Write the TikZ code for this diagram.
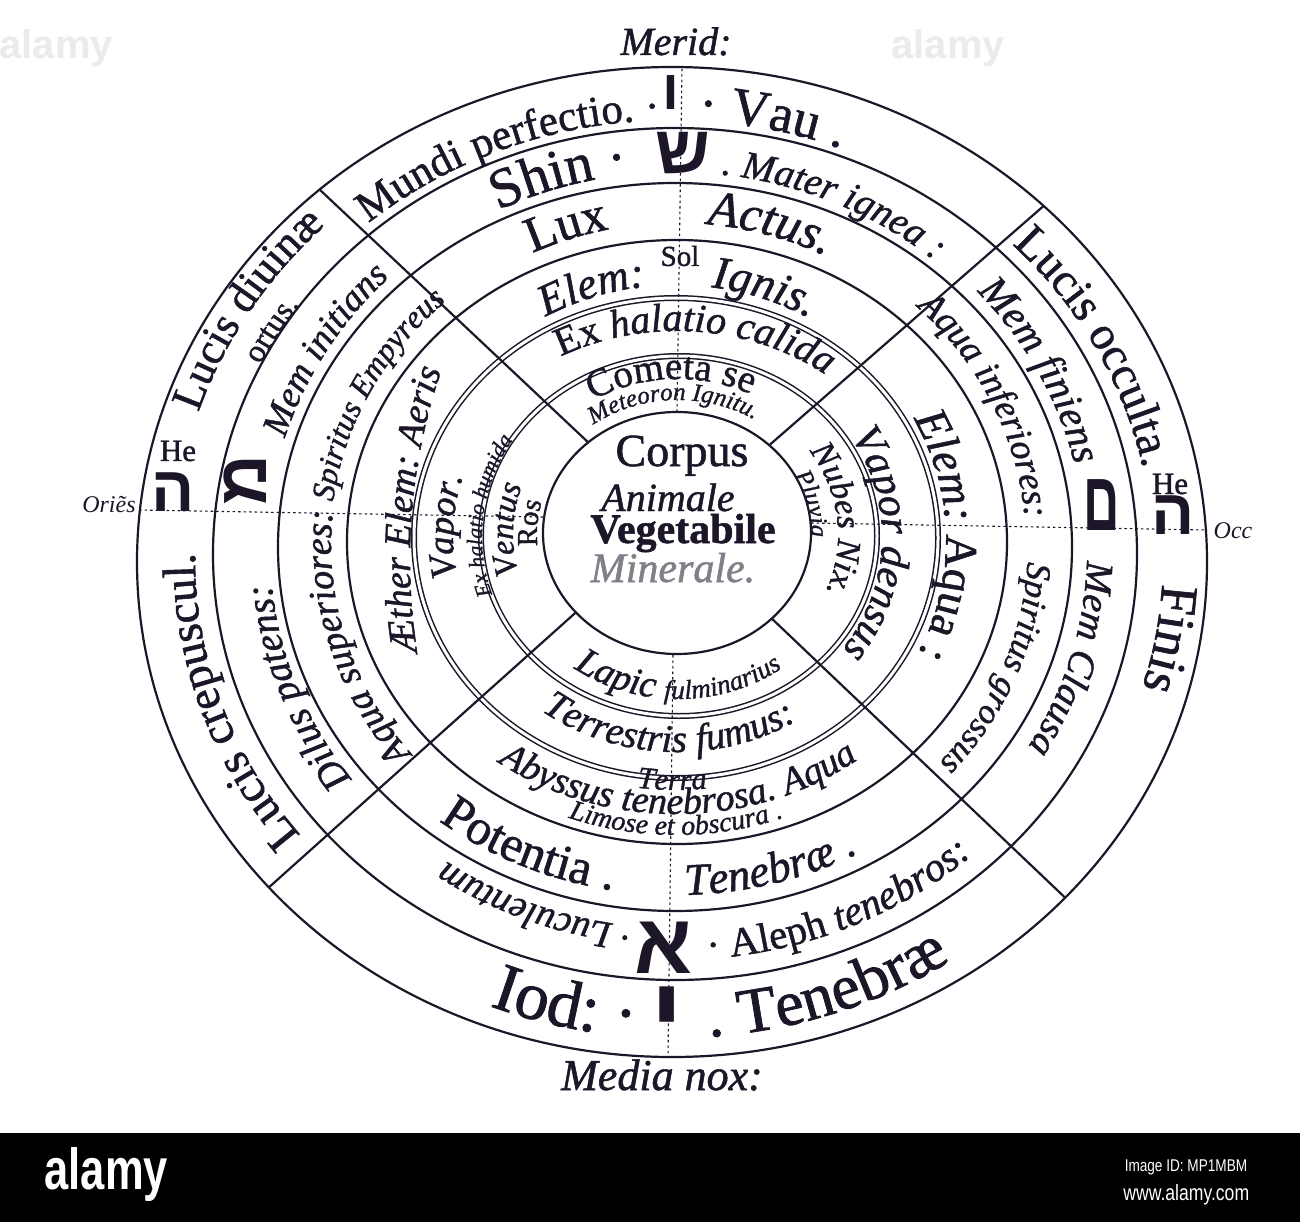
\documentclass[tikz,border=0pt]{standalone}
\usepackage{fontspec}
\usetikzlibrary{decorations.text}
\setmainfont{Liberation Serif}[FakeBold=1.2]
\newfontfamily\hebfont{Liberation Sans}
\newfontfamily\oldserif{Liberation Serif}
\newfontfamily\logofont{Liberation Sans}
\definecolor{ink}{RGB}{28,22,40}
\newcommand{\romanat}[1]{\fontsize{#1}{#1}\selectfont\upshape}
\newcommand{\italat}[1]{\fontsize{#1}{#1}\selectfont\itshape}
\tikzset{
  ringline/.style={draw=ink, line width=2.2pt},
  dblline/.style={draw=ink, line width=1.5pt, double=white, double distance=3pt},
  axis/.style={draw=ink, line width=1.1pt, dash pattern=on 2.5pt off 3pt},
  curved/.style={decorate, decoration={text along path, text align=center, text color=ink, text={#1}}},
  heb/.style={font=\hebfont\bfseries\fontsize{#1}{#1}\selectfont, text=ink, inner sep=0pt},
  word/.style={text=ink, inner sep=0pt},
}
% centre, x radius, y radius, middle angle, half span (negative: inner side up), text
\newcommand{\ringtext}[6]{%
  \path[curved={#6}] (#1) ++({#4-(#5)}:#2 and #3)
    arc[start angle={#4-(#5)}, end angle={#4+(#5)}, x radius=#2, y radius=#3];}
\begin{document}
\begin{tikzpicture}[x=1pt, y=-1pt]
 \useasboundingbox (0,0) rectangle (1300,1222);
 \fill[white] (0,0) rectangle (1300,1222);
 %
 \coordinate (c0) at (677,533);
 \coordinate (c1) at (679,536);
 \coordinate (c2) at (676,538);
 \coordinate (c3) at (677,542);
 \coordinate (c4) at (675,547);
 \coordinate (c5) at (675,554);
 \coordinate (c6) at (672,562);
 % the rings
 \draw[ringline] (c0) ellipse[x radius=134, y radius=121];
 \draw[dblline] (c1) ellipse[x radius=198, y radius=180];
 \draw[dblline] (c2) ellipse[x radius=262, y radius=240];
 \draw[ringline] (c3) ellipse[x radius=330, y radius=302];
 \draw[ringline] (c4) ellipse[x radius=397, y radius=364];
 \draw[ringline] (c5) ellipse[x radius=462, y radius=426];
 \draw[ringline] (c6) ellipse[x radius=535, y radius=495];
 % the four diagonals
 \path (c0) ++(228.5:134 and 121) coordinate (ul-in);
 \path (c6) ++(228.8:535 and 495) coordinate (ul-out);
 \path (c0) ++(313.5:134 and 121) coordinate (ur-in);
 \path (c6) ++(314:535 and 495) coordinate (ur-out);
 \path (c0) ++(45:134 and 121) coordinate (lr-in);
 \path (c6) ++(42.7:535 and 495) coordinate (lr-out);
 \path (c0) ++(139:134 and 121) coordinate (ll-in);
 \path (c6) ++(138.9:535 and 495) coordinate (ll-out);
 \draw[ringline] (ul-in) -- (ul-out);
 \draw[ringline] (ur-in) -- (ur-out);
 \draw[ringline] (lr-in) -- (lr-out);
 \draw[ringline] (ll-in) -- (ll-out);
 % meridian and horizon
 \coordinate (n-in) at (677,412); \coordinate (n-out) at (682,67);
 \coordinate (s-in) at (673,655); \coordinate (s-out) at (668,1057);
 \coordinate (w-in) at (543,517); \coordinate (w-out) at (138,510);
 \coordinate (e-in) at (811,523); \coordinate (e-out) at (1207,530);
 \draw[axis] (n-in) -- (n-out);
 \draw[axis] (s-in) -- (s-out);
 \draw[axis] (w-in) -- (w-out);
 \draw[axis] (e-in) -- (e-out);
 %
 % outer ring
 \coordinate (cF) at (673,558);
 \ringtext{cF}{472}{438}{249}{26}{|\romanat{43}|Mundi perfectio. ·}
 \ringtext{cF}{472}{438}{282}{16}{|\romanat{53}|· Vau .}
 \ringtext{cF}{480}{443}{331.8}{23}{|\romanat{47}|Lucis occulta.}
 \ringtext{cF}{490}{450}{10}{13}{|\romanat{53}|Finis}
 \ringtext{cF}{478}{442}{161}{25}{|\romanat{47}|Lucis crepuscul.}
 \ringtext{cF}{500}{463}{212}{21}{|\romanat{44}|Lucis diuinæ}
 \ringtext{cF}{463}{428}{211.5}{11}{|\romanat{32}|ortus.}
 \ringtext{cF}{510}{480}{102.7}{-15}{|\romanat{68}|Iod: ·}
 \ringtext{cF}{510}{480}{71.4}{-22}{|\romanat{64}|. Tenebræ}
 \node[heb=56] (vau) at (671,93) {ו};
 \node[heb=64] (he-w) at (173,492) {ה};
 \node[heb=64] (he-e) at (1173,515) {ה};
 \node[heb=110] (iod) at (667,1020) {י};
 \node[word, font=\romanat{31}] (he-w-name) at (178,451) {He};
 \node[word, font=\romanat{31}] (he-e-name) at (1170,484) {He};
 %
 % second ring
 \coordinate (cE) at (675,550);
 \ringtext{cE}{403}{378}{253.6}{17}{|\romanat{56}|Shin ·}
 \ringtext{cE}{403}{378}{293.5}{25}{|\italat{39}|. Mater ignea :}
 \ringtext{cE}{410}{382}{332.4}{22}{|\italat{41}|Mem finiens}
 \ringtext{cE}{412}{382}{16.3}{21}{|\italat{39}|Mem Clausa}
 \ringtext{cE}{403}{378}{110.5}{21}{|\italat{38}|· Luculentum}
 \ringtext{cE}{445}{410}{66.8}{-26}{|\romanat{41}|· Aleph |\italat{41}|tenebros:}
 \ringtext{cE}{408}{382}{211.2}{21}{|\italat{37}|Mem initians}
 \ringtext{cE}{405}{380}{159}{22}{|\italat{40}|Dilus patens:}
 \node[heb=68] (shin) at (683,153) {ש};
 \node[heb=84, xscale=0.6] (mem-e) at (1102,505) {ם};
 \node[heb=70, rotate=90] (mem-w) at (245,480) {מ};
 \node[heb=85] (aleph) at (663,948) {א};
 %
 % third ring
 \coordinate (cD) at (676,545);
 \ringtext{cD}{340}{322}{251.8}{13}{|\romanat{50}|Lux}
 \ringtext{cD}{340}{322}{285.7}{17}{|\italat{50}|Actus.}
 \ringtext{cD}{350}{328}{334.5}{27}{|\italat{37}|Aqua inferiores:}
 \ringtext{cD}{352}{328}{22.2}{26}{|\italat{35}|Spiritus grossus}
 \ringtext{cD}{385}{350}{113.9}{-22}{|\romanat{50}|Potentia .}
 \ringtext{cD}{385}{350}{75.1}{-20}{|\italat{45}|Tenebræ .}
 \ringtext{cD}{346}{326}{207.9}{26}{|\italat{32}|Spiritus Empyreus}
 \ringtext{cD}{345}{325}{163.1}{28}{|\italat{38}|Aqua superiores:}
 %
 % fourth ring
 \coordinate (cC) at (676,540);
 \coordinate (cC-w) at (1000,560);
 \ringtext{cC}{270}{255}{252.3}{16}{|\italat{44}|Elem:}
 \ringtext{cC}{270}{255}{288.6}{18}{|\italat{46}|Ignis.}
 \ringtext{cC}{270}{255}{359}{33}{|\italat{46}|Elem: |\romanat{46}|Aqua :}
 \ringtext{cC}{304}{274}{89.5}{-44}{|\italat{38}|Abyssus tenebrosa. Aqua}
 \ringtext{cC}{280}{250}{90.8}{-14}{|\italat{31}|Terra}
 \ringtext{cC}{318}{295}{90}{-28}{|\italat{28}|Limose et obscura .}
 \ringtext{cC-w}{590}{590}{184.9}{20}{|\italat{38}|Æther Elem: Aeris}
 \node[word, font=\romanat{29}] (sol) at (680,256) {Sol};
 %
 % fifth ring
 \coordinate (cB) at (677,537);
 \ringtext{cB}{241}{206}{274.8}{42}{|\romanat{40}|Ex |\italat{40}|halatio calida}
 \ringtext{cB}{205}{190}{2.2}{39}{|\italat{42}|Vapor densus}
 \ringtext{cB}{230}{215}{92.3}{-41}{|\italat{39}|Terrestris fumus:}
 \ringtext{cB}{224}{206}{183}{19}{|\italat{37}|Vapor.}
 \ringtext{cB}{195}{180}{187}{32}{|\italat{22}|Ex halatio humida}
 %
 % sixth ring
 \coordinate (cA) at (678,535);
 \ringtext{cA}{169}{156}{267.6}{36}{|\romanat{39}|Cometa se}
 \ringtext{cA}{147}{135}{268}{42}{|\italat{25}|Meteoron Ignitu.}
 \ringtext{cA}{160}{147}{354}{34}{|\italat{34}|Nubes Nix.}
 \ringtext{cA}{133}{122}{346}{20}{|\italat{25}|Pluvia}
 \ringtext{cA}{178}{164}{90}{-45}{|\italat{38}|Lapic |\italat{27}|fulminarius}
 \ringtext{cA}{165}{152}{182}{23}{|\italat{33}|Ventus}
 \ringtext{cA}{141}{130}{185}{16}{|\romanat{29}|Ros}
 %
 % centre
 \node[word, font=\romanat{46}, anchor=base] (corpus) at (682,466) {Corpus};
 \node[word, font=\italat{40}, anchor=base] (animale) at (668,511) {Animale};
 \node[word, font={\romanat{42}\bfseries}, anchor=base] (vegetabile) at (683,543) {Vegetabile};
 \node[word, font=\italat{42}, anchor=base, text=ink!55] (minerale) at (673,582) {Minerale.};
 %
 % quarters of the sky
 \node[word, font=\italat{40}, anchor=base] (merid) at (676,55) {Merid:};
 \node[word, font=\italat{44}, anchor=base] (medianox) at (662,1090) {Media nox:};
 \node[word, font={\oldserif\itshape\fontsize{24}{24}\selectfont}, anchor=base] (oriens) at (109,512) {Oriẽs};
 \node[word, font={\oldserif\itshape\fontsize{24}{24}\selectfont}, anchor=base] (occ) at (1233,538) {Occ};
 %
 % stock photo marks
 \node[font={\logofont\bfseries\fontsize{40}{40}\selectfont}, text=black!8, anchor=west] (wm-left) at (-4,48) {alamy};
 \node[font={\logofont\bfseries\fontsize{40}{40}\selectfont}, text=black!8, anchor=west] (wm-right) at (888,48) {alamy};
 \fill[black] (0,1133) rectangle (1300,1222);
 \node[font={\logofont\bfseries\fontsize{58}{58}\selectfont}, text=white, xscale=0.75, anchor=west] (logo) at (42,1174) {alamy};
 \node[font={\logofont\fontsize{17}{17}\selectfont}, text=white, xscale=0.8, anchor=east] (imageid) at (1250,1167) {Image ID: MP1MBM};
 \node[font={\logofont\fontsize{22}{22}\selectfont}, text=white, xscale=0.8, anchor=east] (site) at (1252,1195) {www.alamy.com};
\end{tikzpicture}
\end{document}
